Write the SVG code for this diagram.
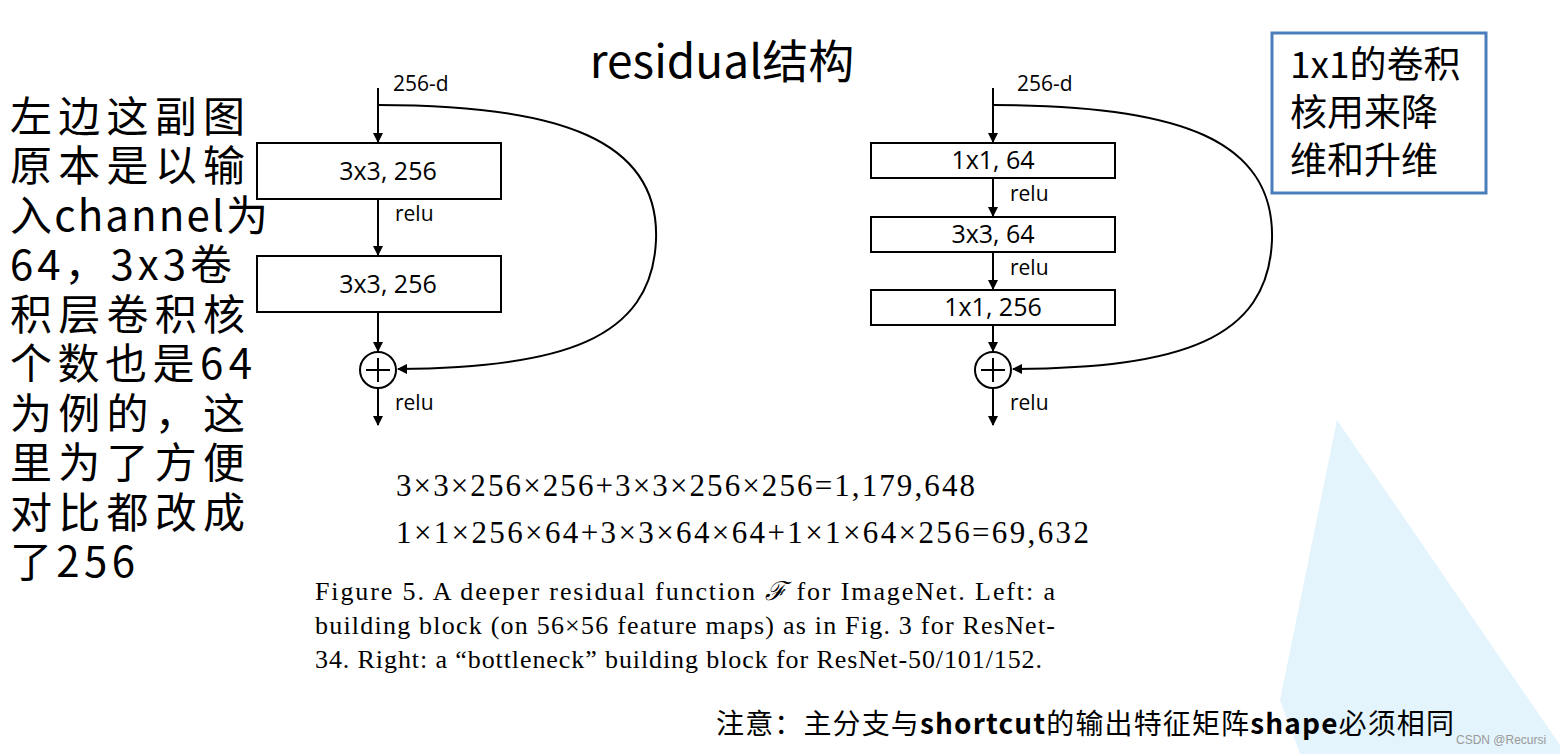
<svg xmlns="http://www.w3.org/2000/svg" width="1560" height="754" viewBox="0 0 1560 754">
<defs>
<marker id="ar" markerWidth="10" markerHeight="10" refX="9" refY="5" orient="auto" markerUnits="userSpaceOnUse"><path d="M0,0 L10,5 L0,10 z" fill="#000"/></marker>
<style>
.box{fill:#fff;stroke:#000;stroke-width:2}
.ln{fill:none;stroke:#000;stroke-width:2}
.lb{font-family:"Open Sans","Liberation Sans",sans-serif;font-size:25px;fill:#000}
.sm{font-family:"Open Sans","Liberation Sans",sans-serif;font-size:21px;fill:#000}
.cn{font-family:"Noto Sans CJK SC",sans-serif;fill:#000}
.tm{font-family:"Liberation Serif",serif;fill:#000}
</style>
</defs>
<rect width="1560" height="754" fill="#fff"/>
<polygon points="1337,420 1280,700 1300,754 1560,754 1560,745" fill="#e4f4fc"/>
<text x="722" y="78" text-anchor="middle" class="cn" font-size="46">residual结构</text>
<g id="leftnote" class="cn" font-size="42">
<text x="10" y="132" textLength="235">左边这副图</text><text x="10" y="181" textLength="235">原本是以输</text><text x="10" y="231" textLength="258">入channel为</text><text x="10" y="280" textLength="222">64，3x3卷</text><text x="10" y="330" textLength="235">积层卷积核</text><text x="10" y="379" textLength="242">个数也是64</text><text x="10" y="429" textLength="235">为例的，这</text><text x="10" y="478" textLength="235">里为了方便</text><text x="10" y="528" textLength="235">对比都改成</text><text x="10" y="577" textLength="125">了256</text>
</g>
<g id="note">
<rect x="1272" y="33" width="214" height="160" fill="#fff" stroke="#4a7ebb" stroke-width="3"/>
<text x="1290" y="78" class="cn" font-size="37">1x1的卷积</text>
<text x="1290" y="126" class="cn" font-size="37">核用来降</text>
<text x="1290" y="174" class="cn" font-size="37">维和升维</text>
</g>
<g id="connectors">
<line x1="378" y1="88" x2="378" y2="142" class="ln" marker-end="url(#ar)"/>
<line x1="378" y1="199" x2="378" y2="255" class="ln" marker-end="url(#ar)"/>
<line x1="378" y1="312" x2="378" y2="351" class="ln" marker-end="url(#ar)"/>
<line x1="378" y1="388" x2="378" y2="425" class="ln" marker-end="url(#ar)"/>
<path d="M378,105 C560,105 660,140 656,240 C652,340 560,368 398,369" class="ln" marker-end="url(#ar)"/>
<line x1="993" y1="88" x2="993" y2="142" class="ln" marker-end="url(#ar)"/>
<line x1="993" y1="178" x2="993" y2="216" class="ln" marker-end="url(#ar)"/>
<line x1="993" y1="252" x2="993" y2="289" class="ln" marker-end="url(#ar)"/>
<line x1="993" y1="325" x2="993" y2="351" class="ln" marker-end="url(#ar)"/>
<line x1="993" y1="388" x2="993" y2="425" class="ln" marker-end="url(#ar)"/>
<path d="M993,105 C1180,105 1275,140 1272,240 C1268,340 1180,368 1013,369" class="ln" marker-end="url(#ar)"/>
</g>
<text x="393" y="91" class="sm">256-d</text>
<text x="1017" y="91" class="sm">256-d</text>
<g id="L1"><rect x="257" y="143" width="244" height="56" class="box"/><text x="388" y="180" text-anchor="middle" class="lb">3x3, 256</text></g>
<text x="395" y="221" class="sm">relu</text>
<g id="L2"><rect x="257" y="256" width="244" height="56" class="box"/><text x="388" y="293" text-anchor="middle" class="lb">3x3, 256</text></g>
<g id="Lplus"><circle cx="378" cy="370" r="18" class="box"/><path d="M366,370 H390 M378,358 V382" class="ln"/></g>
<text x="395" y="410" class="sm">relu</text>
<g id="R1"><rect x="871" y="143" width="244" height="35" class="box"/><text x="993" y="169" text-anchor="middle" class="lb">1x1, 64</text></g>
<text x="1010" y="201" class="sm">relu</text>
<g id="R2"><rect x="871" y="217" width="244" height="35" class="box"/><text x="993" y="243" text-anchor="middle" class="lb">3x3, 64</text></g>
<text x="1010" y="275" class="sm">relu</text>
<g id="R3"><rect x="871" y="290" width="244" height="35" class="box"/><text x="993" y="316" text-anchor="middle" class="lb">1x1, 256</text></g>
<g id="Rplus"><circle cx="993" cy="370" r="18" class="box"/><path d="M981,370 H1005 M993,358 V382" class="ln"/></g>
<text x="1010" y="410" class="sm">relu</text>
<text x="396" y="496" class="tm" font-size="31" textLength="579">3×3×256×256+3×3×256×256=1,179,648</text>
<text x="396" y="543" class="tm" font-size="31" textLength="693">1×1×256×64+3×3×64×64+1×1×64×256=69,632</text>
<g class="tm" font-size="26">
<text x="315" y="600" textLength="740">Figure 5. A deeper residual function <tspan font-style="italic">ℱ</tspan> for ImageNet.  Left: a</text>
<text x="315" y="634" textLength="740">building block (on 56×56 feature maps) as in Fig. 3 for ResNet-</text>
<text x="315" y="668" textLength="727">34. Right: a “bottleneck” building block for ResNet-50/101/152.</text>
</g>
<text x="716" y="734" class="cn" font-size="28" textLength="738">注意：主分支与<tspan font-weight="bold">shortcut</tspan>的输出特征矩阵<tspan font-weight="bold">shape</tspan>必须相同</text>
<text x="1456" y="744" font-family="Liberation Sans,sans-serif" font-size="12" fill="#999">CSDN @Recursi</text>
</svg>
